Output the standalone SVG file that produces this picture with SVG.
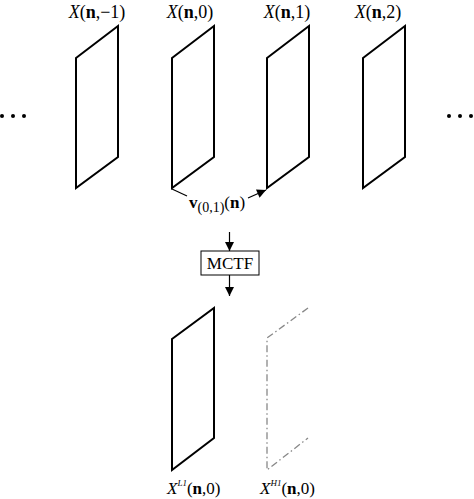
<svg xmlns="http://www.w3.org/2000/svg" width="474" height="499" viewBox="0 0 474 499">
<defs>
<style>
.t{font-family:"Liberation Serif","Times New Roman",serif;font-size:17px;fill:#000}
.h{font-size:18px}
.it{font-style:italic}
.b{font-weight:bold}
.frame{fill:none;stroke:#000;stroke-width:2;stroke-linejoin:miter}
.dash{fill:none;stroke:#888;stroke-width:1.3;stroke-dasharray:7,3,1.5,3}
.ln{fill:none;stroke:#000;stroke-width:1.2}
.dot{fill:#000}
</style>
<marker id="ah" viewBox="0 0 10 10" refX="10" refY="5" markerWidth="11" markerHeight="9" markerUnits="userSpaceOnUse" orient="auto">
<path d="M0,0 L10,5 L0,10 Z" fill="#000"/>
</marker>
<marker id="ahd" viewBox="0 0 10 10" refX="10" refY="5" markerWidth="14" markerHeight="9" markerUnits="userSpaceOnUse" orient="auto">
<path d="M0,0 L10,5 L0,10 Z" fill="#000"/>
</marker>
</defs>
<rect width="474" height="499" fill="#fff"/>

<g id="dots-left">
<circle class="dot" cx="2" cy="116" r="2"/>
<circle class="dot" cx="13" cy="116" r="2"/>
<circle class="dot" cx="24" cy="116" r="2"/>
</g>
<g id="dots-right">
<circle class="dot" cx="449" cy="116" r="2"/>
<circle class="dot" cx="460" cy="116" r="2"/>
<circle class="dot" cx="471" cy="116" r="2"/>
</g>

<g id="frame-m1">
<path class="frame" d="M76,58 L118,26 L118,157 L76,188 Z"/>
<text class="t h" x="97" y="18" text-anchor="middle"><tspan class="it">X</tspan>(<tspan class="b">n</tspan>,−1)</text>
</g>
<g id="frame-0">
<path class="frame" d="M172,58 L214,26 L214,157 L172,188 Z"/>
<text class="t h" x="190" y="18" text-anchor="middle"><tspan class="it">X</tspan>(<tspan class="b">n</tspan>,0)</text>
</g>
<g id="frame-1">
<path class="frame" d="M267,58 L309,26 L309,157 L267,188 Z"/>
<text class="t h" x="287" y="18" text-anchor="middle"><tspan class="it">X</tspan>(<tspan class="b">n</tspan>,1)</text>
</g>
<g id="frame-2">
<path class="frame" d="M363,58 L405,26 L405,157 L363,188 Z"/>
<text class="t h" x="378" y="18" text-anchor="middle"><tspan class="it">X</tspan>(<tspan class="b">n</tspan>,2)</text>
</g>

<g id="mctf">
<rect x="201" y="251" width="58" height="24" fill="#fff" stroke="#000" stroke-width="1"/>
<text class="t" x="230" y="269" text-anchor="middle">MCTF</text>
</g>

<g id="frame-L1">
<path class="frame" d="M172,339 L214,308 L214,438 L172,470 Z"/>
<text class="t" x="167" y="494"><tspan class="it">X</tspan><tspan class="it" font-size="9" dy="-8">L1</tspan><tspan dy="8">(</tspan><tspan class="b">n</tspan>,0)</text>
</g>
<g id="frame-H1">
<path class="dash" d="M308,308 L267,338 L267,470 L308,438"/>
<text class="t" x="260" y="494"><tspan class="it">X</tspan><tspan class="it" font-size="9" dy="-8">H1</tspan><tspan dy="8">(</tspan><tspan class="b">n</tspan>,0)</text>
</g>

<g id="connectors">
<line class="ln" x1="172" y1="189" x2="187" y2="196"/>
<line class="ln" x1="248" y1="198" x2="266" y2="190" marker-end="url(#ahd)"/>
<line class="ln" x1="229.5" y1="232" x2="229.5" y2="251" marker-end="url(#ah)"/>
<line class="ln" x1="229.5" y1="275" x2="229.5" y2="296" marker-end="url(#ah)"/>
</g>

<g id="mv-label">
<text class="t" x="189" y="208"><tspan class="b">v</tspan><tspan font-size="14" dy="4">(0,1)</tspan><tspan dy="-4">(</tspan><tspan class="b">n</tspan>)</text>
</g>
</svg>
